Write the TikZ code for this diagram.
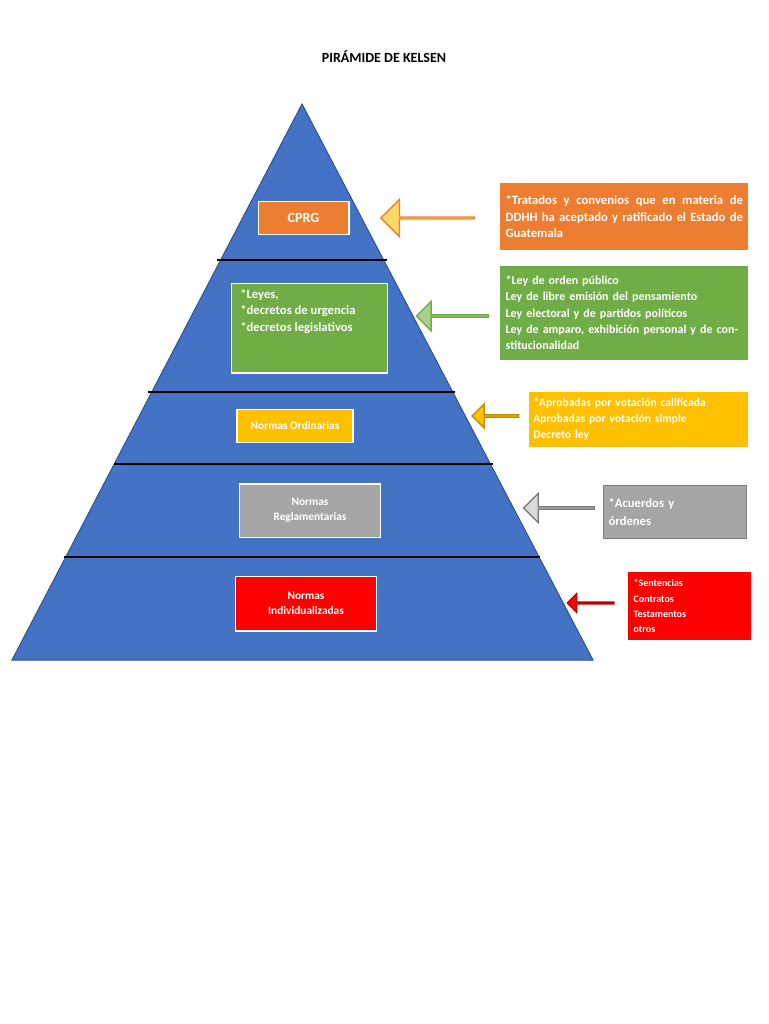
\documentclass[tikz,border=0pt]{standalone}
\usepackage{fontspec}
\setmainfont{Carlito}
\usetikzlibrary{shapes.arrows}
\definecolor{pyrblue}{RGB}{68,114,196}
\definecolor{pyrline}{RGB}{47,82,143}
\definecolor{cporange}{RGB}{237,125,49}
\definecolor{leygreen}{RGB}{112,173,71}
\definecolor{ordgold}{RGB}{255,192,0}
\definecolor{reggray}{RGB}{165,165,165}
\tikzset{
  level/.style={draw=white, line width=1pt, text=white, align=center, inner sep=4pt},
  note/.style={anchor=north west, text=white, inner sep=4pt, align=left},
  larrow/.style={single arrow, shape border rotate=180, single arrow head extend=6pt, inner sep=0pt, line width=1pt},
  sep/.style={line width=2.2pt, black}
}
\begin{document}
\begin{tikzpicture}[x=0.75pt,y=0.75pt,yscale=-1,xscale=1]
\useasboundingbox (0,0) rectangle (768,1024);

% title
\node (title) at (384,57) {\bfseries\fontsize{10.5}{12}\selectfont PIRÁMIDE DE KELSEN};

% pyramid
\draw [fill=pyrblue, draw=pyrline, line width=0.75pt] (302,104) -- (593,660) -- (12,660) -- cycle;
\draw [sep] (217,260) -- (387,260);
\draw [sep] (148,392) -- (455,392);
\draw [sep] (114,464) -- (493,464);
\draw [sep] (64,557) -- (540,557);

% levels
\node (cprg) [level, fill=cporange, minimum width=68pt, minimum height=25pt, font=\bfseries\fontsize{10.5}{12}\selectfont] at (303.5,218) {CPRG};
\node (leyes) [level, fill=leygreen, minimum width=117pt, minimum height=67pt, align=left, anchor=north west, font=\bfseries\fontsize{9.5}{12.5}\selectfont, text depth=0pt, inner sep=0pt] at (231,283) {};
\node [anchor=north west, text=white, align=left, font=\bfseries\fontsize{9.5}{12.5}\selectfont, inner sep=0pt] at (240,289) {*Leyes,\\*decretos de urgencia\\*decretos legislativos};
\node (ord) [level, fill=ordgold, minimum width=87pt, minimum height=25pt, font=\bfseries\fontsize{8.5}{10}\selectfont] at (295,426) {Normas Ordinarias};
\node (reg) [level, fill=reggray, minimum width=106pt, minimum height=40pt, font=\bfseries\fontsize{8.5}{11.5}\selectfont] at (310,510.5) {Normas\\Reglamentarias};
\node (ind) [level, fill=red, minimum width=106pt, minimum height=41pt, font=\bfseries\fontsize{8.5}{11.5}\selectfont] at (306,603.5) {Normas\\Individualizadas};

% arrows
\node (a1) [larrow, fill={rgb,255:red,255;green,217;blue,102}, draw=cporange, minimum width=28pt, minimum height=70pt, single arrow head extend=9pt] at (428,218) {};
\node (a2) [larrow, fill={rgb,255:red,169;green,209;blue,142}, draw=leygreen, minimum width=22pt, minimum height=54pt] at (453,316) {};
\node (a3) [larrow, fill=ordgold, draw={rgb,255:red,191;green,144;blue,0}, minimum width=18pt, minimum height=35pt, single arrow head extend=5pt] at (496,416) {};
\node (a4) [larrow, fill={rgb,255:red,217;green,217;blue,217}, draw={rgb,255:red,124;green,124;blue,124}, minimum width=22pt, minimum height=53pt] at (559.5,508) {};
\node (a5) [larrow, fill=red, draw={rgb,255:red,192;green,0;blue,0}, minimum width=14pt, minimum height=35pt, single arrow head extend=5pt] at (591,603) {};

% notes
\node (n1) [note, fill=cporange, text width=178pt, align=justify, minimum height=50pt, font=\bfseries\fontsize{9.5}{12.5}\selectfont] at (500,183) {*Tratados y convenios que en materia de DDHH ha aceptado y ratificado el Estado de Guatemala};
\node (n2) [note, fill=leygreen, text width=178pt, minimum height=70pt, font=\bfseries\fontsize{9}{12.3}\selectfont] at (500,266) {*Ley de orden público\\*Ley de libre emisión del pensamiento\\*Ley electoral y de partidos políticos\\*Ley de amparo, exhibición personal y de constitucionalidad};
\node (n3) [note, fill=ordgold, text width=158pt, minimum height=41pt, inner sep=3pt, font=\bfseries\fontsize{8.7}{12}\selectfont] at (529,392) {*Aprobadas por votación calificada\\*Aprobadas por votación simple\\*Decreto ley};
\node (n4) [note, fill=reggray, draw={rgb,255:red,124;green,124;blue,124}, text width=99pt, minimum height=40pt, font=\bfseries\fontsize{9.5}{14}\selectfont] at (603,485) {*Acuerdos y\\órdenes};
\node (n5) [note, fill=red, text width=84pt, minimum height=51pt, font=\bfseries\fontsize{7.5}{11.5}\selectfont] at (628,572) {*Sentencias\\*Contratos\\*Testamentos\\*otros};
\end{tikzpicture}
\end{document}
